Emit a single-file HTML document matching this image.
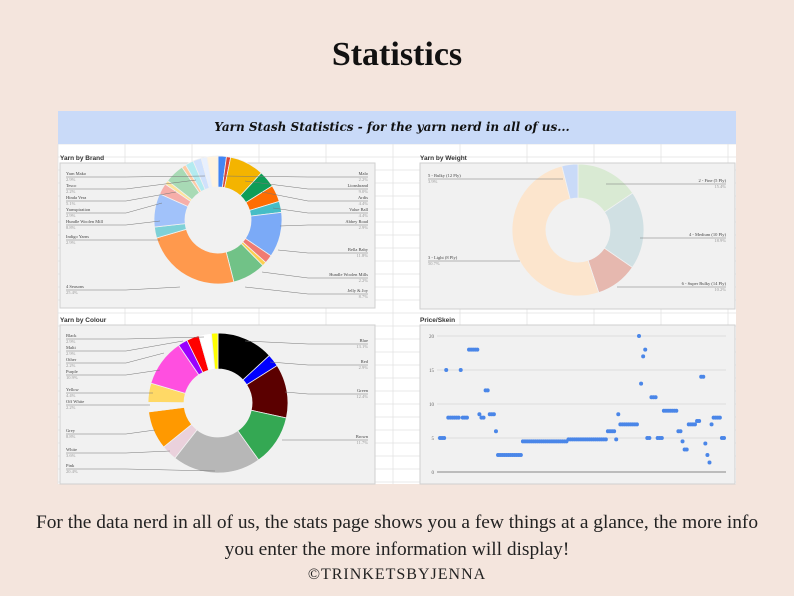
<!DOCTYPE html>
<html><head><meta charset="utf-8">
<style>
body{margin:0;width:794px;height:596px;background:#f4e5dd;overflow:hidden;font-family:"Liberation Serif",serif;position:relative}
#title{position:absolute;top:36px;left:0;width:794px;text-align:center;font-size:34px;font-weight:bold;color:#111}
#desc{position:absolute;top:509px;left:0;width:794px;text-align:center;font-size:19.4px;line-height:27px;color:#222;white-space:nowrap}
#brand{position:absolute;top:566px;left:0;width:794px;text-align:center;font-size:16px;letter-spacing:1px;color:#222}
svg{position:absolute;left:0;top:0}
</style></head><body>
<div id="title">Statistics</div>
<svg id="s" width="794" height="596"></svg>
<div id="desc">For the data nerd in all of us, the stats page shows you a few things at a glance, the more info<br>you enter the more information will display!</div>
<div id="brand">©TRINKETSBYJENNA</div>
<script>
const brandValues=[2.2,1.1,9.0,4.4,4.4,2.9,11.8,2.2,1.1,8.7,25.4,2.9,8.8,2.9,1.1,5.1,1.1,2.2,2.2,1.5,2.9];
const brandColors=['#4285f4','#db4437','#f4b400','#0f9d58','#ff6d01','#46bdc6','#7baaf7','#f07b72','#fcd04f','#71c287','#ff994d','#7ed1d7','#a1c2fa','#f6aea9','#fde49b','#a8dab5','#ffcba4','#b3ebf0','#d0e1fc','#e8f0fe','#fff3e0'];
const weightValues=[15.4,18.9,10.2,50.7,3.9];
const weightColors=['#d9ead3','#d0e0e3','#e6b8af','#fce5cd','#c9daf8'];
const colourValues=[13.1,2.9,12.4,11.7,20.4,3.6,8.8,2.2,4.4,10.9,2.2,2.9,2.9,1.5];
const colourColors=['#000000','#0000ff','#5b0000','#34a853','#b7b7b7','#ead1dc','#ff9900','#f3f3f3','#ffd966','#ff4fe0','#9900ff','#ff0000','#ffffff','#ffff00'];
const priceValues=[5,5,5,15,8,8,8,8,8,8,15,8,8,8,18,18,18,18,18,8.5,8,8,12,12,8.5,8.5,8.5,6,
2.5,2.5,2.5,2.5,2.5,2.5,2.5,2.5,2.5,2.5,2.5,2.5,
4.5,4.5,4.5,4.5,4.5,4.5,4.5,4.5,4.5,4.5,4.5,4.5,4.5,4.5,4.5,4.5,4.5,4.5,4.5,4.5,4.5,4.5,
4.8,4.8,4.8,4.8,4.8,4.8,4.8,4.8,4.8,4.8,4.8,4.8,4.8,4.8,4.8,4.8,4.8,4.8,4.8,
6,6,6,6,4.8,8.5,7,7,7,7,7,7,7,7,7,20,13,17,18,5,5,11,11,11,5,5,5,9,9,9,9,9,9,9,6,6,4.5,3.3,3.3,7,7,7,7,7.5,7.5,14,14,4.2,2.5,1.4,7,8,8,8,8,5,5];
const priceTicks=[0,5,10,15,20];
const NS='http://www.w3.org/2000/svg';
const s=document.getElementById('s');
function el(t,a,p){const e=document.createElementNS(NS,t);for(const k in a)e.setAttribute(k,a[k]);(p||s).appendChild(e);return e;}
let g=el('rect',{x:58,y:111,width:678,height:373,fill:'#fff'});


for(let y=144;y<484;y+=13){el('line',{x1:58,x2:736,y1:y,y2:y,stroke:'#e3e3e3','stroke-width':0.8});}
for(let x=58;x<736;x+=67){el('line',{x1:x,x2:x,y1:144,y2:484,stroke:'#e3e3e3','stroke-width':0.8});}
let hb=el('rect',{x:58,y:111,width:678,height:33,fill:'#c9daf8'});


let ht=el('text',{x:392,y:131,'text-anchor':'middle','font-size':12,'font-style':'italic','font-weight':'bold','font-family':'"DejaVu Serif",serif',fill:'#111'});
ht.textContent='Yarn Stash Statistics - for the yarn nerd in all of us...';


function panel(x,y,w,h,title,name){
 const t=el('text',{x:x,y:y-3,'font-size':6.5,'font-weight':'bold','font-family':'Liberation Sans,sans-serif',fill:'#333'});t.textContent=title;
 
 
 const r=el('rect',{x:x,y:y,width:w,height:h,fill:'#f1f1f1',stroke:'#cfcfcf'});
 
 
}
panel(60,163,315,145,'Yarn by Brand','brand-chart');
panel(420,163,315,146,'Yarn by Weight','weight-chart');
panel(60,325,315,159,'Yarn by Colour','colour-chart');
panel(420,325,315,159,'Price/Skein','price-chart');
function donut(cx,cy,ro,ri,vals,cols,start,name){
 const tot=vals.reduce((a,b)=>a+b,0);let a=start;
 vals.forEach((v,i)=>{const a2=a+v/tot*2*Math.PI;
  const p=(r,t)=>[cx+r*Math.sin(t),cy-r*Math.cos(t)];
  const [x1,y1]=p(ro,a),[x2,y2]=p(ro,a2),[x3,y3]=p(ri,a2),[x4,y4]=p(ri,a);const lg=a2-a>Math.PI?1:0;
  const e=el('path',{d:`M${x1},${y1}A${ro},${ro} 0 ${lg} 1 ${x2},${y2}L${x3},${y3}A${ri},${ri} 0 ${lg} 0 ${x4},${y4}Z`,fill:cols[i],stroke:'#f1f1f1','stroke-width':0.8});
  
  
  a=a2;});
}
donut(218,220,64,33,brandValues,brandColors,0,'brand');
donut(578,230,66,32,weightValues,weightColors,0,'weight');
donut(218,403,70,34,colourValues,colourColors,0,'colour');
function labels(list,side,name){
 list.forEach(([txt,pct,y,lx,ly])=>{
  const x=side=='l'?66:368,anc=side=='l'?'start':'end';
  const t=el('text',{x:x,y:y,'font-size':4.5,'text-anchor':anc,fill:'#444'});t.textContent=txt;
  
  
  const t2=el('text',{x:x,y:y+6,'font-size':4.5,'text-anchor':anc,fill:'#999'});t2.textContent=pct;
  el('polyline',{points:`${x},${y+2} ${side=='l'?x+60:x-60},${y+2} ${lx},${ly}`,fill:'none',stroke:'#777','stroke-width':0.5});
 });
}
labels([['Yarn Mako','2.9%',175,205,176],['Tesco','2.2%',187,196,180],['Hinda Vera','5.1%',199,176,192],['Yarnspiration','2.9%',211,162,203],['Hundle Woolen Mill','8.8%',223,160,221],['Indigo Yarns','2.9%',238,160,240],['4 Seasons','25.4%',288,180,287]],'l','brand');
labels([['Malo','2.2%',175,223,176],['Lionsbrand','9.0%',187,245,181],['Ardis','4.4%',199,262,192],['Value Ball','4.4%',211,273,208],['Abbey Road','2.9%',223,280,226],['Bella Baby','11.8%',251,278,250],['Hundle Woolen Mills','2.2%',276,262,272],['Jelly & Joy','8.7%',292,245,287]],'r','brand');
labels([['Black','2.9%',337,204,337],['Malti','2.9%',349,183,341],['Other','2.2%',361,164,353],['Purple','10.9%',373,160,370],['Yellow','4.4%',391,153,393],['Off White','2.2%',403,150,405],['Grey','8.8%',432,155,430],['White','3.6%',451,170,451],['Pink','20.4%',467,215,471]],'l','colour');
labels([['Blue','13.1%',342,245,341],['Red','2.9%',363,270,362],['Green','12.4%',392,285,392],['Brown','11.7%',438,282,440]],'r','colour');
function wlabels(list){list.forEach(([txt,pct,x,y,anc,lx])=>{
 const t=el('text',{x:x,y:y,'font-size':4.5,'text-anchor':anc,fill:'#444'});t.textContent=txt;
 
 
 const t2=el('text',{x:x,y:y+6,'font-size':4.5,'text-anchor':anc,fill:'#999'});t2.textContent=pct;
 el('line',{x1:x,x2:lx,y1:y+2,y2:y+2,stroke:'#777','stroke-width':0.5});});}
wlabels([['5 - Bulky (12 Ply)','3.9%',428,177,'start',563],['2 - Fine (5 Ply)','15.4%',726,182,'end',606],['4 - Medium (10 Ply)','18.9%',726,236,'end',640],['3 - Light (8 Ply)','50.7%',428,259,'start',520],['6 - Super Bulky (14 Ply)','10.2%',726,285,'end',617]]);
const X0=440,X1=724,Y0=472,Y1=336;
const xs=i=>X0+i*(X1-X0)/(priceValues.length-1);
const ys=v=>Y0-(v-0)/(20-0)*(Y0-Y1);
priceTicks.forEach(t=>{
 el('line',{x1:437,x2:726,y1:ys(t),y2:ys(t),stroke:t==0?'#888':'#d6d6d6','stroke-width':t==0?1:0.8});
 const tl=el('text',{x:434,y:ys(t)+2,'font-size':5,'text-anchor':'end',fill:'#666'});tl.textContent=t;
 
 
});
priceValues.forEach((v,i)=>{
 const c=el('circle',{cx:xs(i),cy:ys(v),r:2,fill:'#4a86e8'});
 
 
});
</script>
</body></html>
